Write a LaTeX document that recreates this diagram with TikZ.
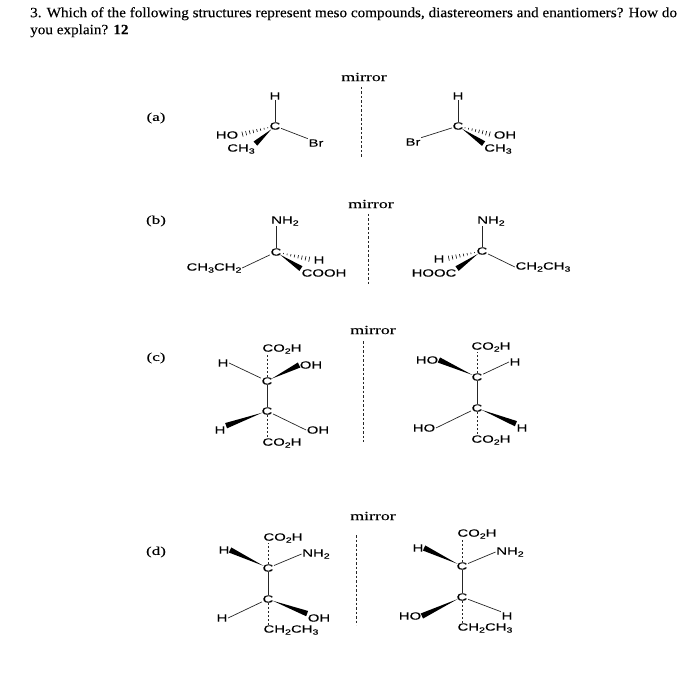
\documentclass[tikz,border=0pt]{standalone}
\usepackage{fontspec}
\setmainfont{Liberation Serif}
\newfontfamily\titlefont[FakeStretch=1.07,FakeBold=0.15]{Liberation Serif}
\newfontfamily\chemfont[FakeStretch=1.42,FakeBold=0.15]{Liberation Sans}
\newfontfamily\mirrorfont[FakeStretch=1.42,FakeBold=0.1]{Liberation Serif}
\usetikzlibrary{positioning,calc}

\newcommand{\low}[1]{\raisebox{-2pt}{\fontsize{7.5}{8}\selectfont #1}}
\newcommand{\wedgebond}[2]{\fill ($(#1)!5pt!(#2)$) -- ($(#2)!2.8pt!90:(#1)$) -- ($(#2)!2.8pt!-90:(#1)$) -- cycle;}
\newcommand{\hashbond}[2]{\foreach \t in {.2,.3,.4,.5,.6,.7,.8,.9,1}{
    \pgfmathsetmacro\w{2.8*\t}
    \draw[hash] ($(#1)!\t!(#2)!\w pt!90:(#2)$) -- ($(#1)!\t!(#2)!\w pt!-90:(#2)$);}}

\tikzset{
    atom/.style={inner sep=.5pt,font=\chemfont\fontsize{10.5}{11}\selectfont},
    bond/.style={draw,line width=.7pt,black!85},
    dotbond/.style={draw,line width=.9pt,black!85,dash pattern=on 2pt off 2pt},
    hash/.style={line width=.6pt},
    mirrorline/.style={draw,line width=1pt,black!85,dash pattern=on 2.5pt off 2pt},
    mirrorlabel/.style={font=\mirrorfont\fontsize{12.5}{13}\selectfont},
    partlabel/.style={font=\mirrorfont\fontsize{12}{13}\selectfont}
}

\begin{document}
\begin{tikzpicture}[x=1pt,y=-1pt,on grid]
\useasboundingbox (0,0) rectangle (683,700);

% Question
\node[anchor=north west,align=left,inner sep=0,
    font=\titlefont\fontsize{14.2}{17}\selectfont] (question) at (30,7)
    {3. Which of the following structures represent meso compounds, diastereomers and enantiomers? How do\\
    you explain? \textbf{12}};

% Part labels
\node[partlabel] (parta) at (156,118) {(a)};
\node[partlabel] (partb) at (156,221) {(b)};
\node[partlabel] (partc) at (156,358) {(c)};
\node[partlabel] (partd) at (156,552) {(d)};

% Mirrors
\node[mirrorlabel] (mirrora) at (364,77) {mirror};
\coordinate[below left=10pt and 2.5pt of mirrora] (mirrora1);
\coordinate[below=71pt of mirrora1] (mirrora2);
\draw[mirrorline] (mirrora1) -- (mirrora2);

\node[mirrorlabel] (mirrorb) at (371,204) {mirror};
\coordinate[below left=10pt and 3pt of mirrorb] (mirrorb1);
\coordinate[below=71pt of mirrorb1] (mirrorb2);
\draw[mirrorline] (mirrorb1) -- (mirrorb2);

\node[mirrorlabel] (mirrorc) at (373,330) {mirror};
\coordinate[below left=11pt and 10pt of mirrorc] (mirrorc1);
\coordinate[below=101pt of mirrorc1] (mirrorc2);
\draw[mirrorline] (mirrorc1) -- (mirrorc2);

\node[mirrorlabel] (mirrord) at (373,516) {mirror};
\coordinate[below left=19pt and 17pt of mirrord] (mirrord1);
\coordinate[below=90pt of mirrord1] (mirrord2);
\draw[mirrorline] (mirrord1) -- (mirrord2);

% (a) left
\node[atom] (cal) at (275,126) {C};
\node[atom,above=30pt of cal] (hal) {H};
\node[atom,below left=9pt and 48pt of cal] (hoal) {HO};
\node[atom,below left=23pt and 34pt of cal] (meal) {CH\low{3}};
\node[atom,below right=17pt and 41pt of cal] (bral) {Br};
\draw[bond] (cal) -- (hal);
\draw[bond] (cal) -- (bral.north west);
\hashbond{cal}{hoal.east}
\wedgebond{cal}{meal.north east}

% (a) right
\node[atom] (car) at (458,126) {C};
\node[atom,above=30pt of car] (har) {H};
\node[atom,below right=9pt and 47pt of car] (ohar) {OH};
\node[atom,below right=23pt and 40pt of car] (mear) {CH\low{3}};
\node[atom,below left=16pt and 45pt of car] (brar) {Br};
\draw[bond] (car) -- (har);
\draw[bond] (car) -- (brar.north east);
\hashbond{car}{ohar.west}
\wedgebond{car}{mear.north west}

% (b) left
\node[atom] (cbl) at (276,252) {C};
\node[atom,above right=31pt and 9pt of cbl] (nhbl) {NH\low{2}};
\node[atom,below right=8pt and 43pt of cbl] (hbl) {H};
\node[atom,below right=21pt and 48pt of cbl] (cobl) {COOH};
\node[atom,below left=16pt and 62pt of cbl] (etbl) {CH\low{3}CH\low{2}};
\draw[bond] (cbl) -- (cbl |- nhbl.south);
\draw[bond] (cbl) -- (etbl.east);
\hashbond{cbl}{hbl.west}
\wedgebond{cbl}{cobl.north west}

% (b) right
\node[atom] (cbr) at (482,251) {C};
\node[atom,above right=30pt and 9pt of cbr] (nhbr) {NH\low{2}};
\node[atom,below left=8pt and 43pt of cbr] (hbr) {H};
\node[atom,below left=22pt and 48pt of cbr] (cobr) {HOOC};
\node[atom,below right=16pt and 61pt of cbr] (etbr) {CH\low{2}CH\low{3}};
\draw[bond] (cbr) -- (cbr |- nhbr.south);
\draw[bond] (cbr) -- (etbr.west);
\hashbond{cbr}{hbr.east}
\wedgebond{cbr}{cobr.north east}

% (c) left
\node[atom] (cclt) at (267,381) {C};
\node[atom,below=30pt of cclt] (cclb) {C};
\node[atom,above right=32pt and 15pt of cclt] (coclt) {CO\low{2}H};
\node[atom,below right=32pt and 15pt of cclb] (coclb) {CO\low{2}H};
\node[atom,above left=18pt and 44pt of cclt] (hclt) {H};
\node[atom,above right=16pt and 44pt of cclt] (ohclt) {OH};
\node[atom,below left=19pt and 47pt of cclb] (hclb) {H};
\node[atom,below right=19pt and 51pt of cclb] (ohclb) {OH};
\draw[bond] (cclt) -- (cclb);
\draw[dotbond] (cclt) -- (cclt |- coclt.south);
\draw[dotbond] (cclb) -- (cclb |- coclb.north);
\draw[bond] (cclt) -- (hclt.east);
\draw[bond] (cclb) -- (ohclb.west);
\wedgebond{cclt}{ohclt.west}
\wedgebond{cclb}{hclb.north east}

% (c) right
\node[atom] (ccrt) at (477,377) {C};
\node[atom,below=31pt of ccrt] (ccrb) {C};
\node[atom,above right=30pt and 14pt of ccrt] (cocrt) {CO\low{2}H};
\node[atom,below right=32pt and 14pt of ccrb] (cocrb) {CO\low{2}H};
\node[atom,above left=17pt and 50pt of ccrt] (hocrt) {HO};
\node[atom,above right=15pt and 38pt of ccrt] (hcrt) {H};
\node[atom,below left=20pt and 53pt of ccrb] (hocrb) {HO};
\node[atom,below right=20pt and 45pt of ccrb] (hcrb) {H};
\draw[bond] (ccrt) -- (ccrb);
\draw[dotbond] (ccrt) -- (ccrt |- cocrt.south);
\draw[dotbond] (ccrb) -- (ccrb |- cocrb.north);
\draw[bond] (ccrt) -- (hcrt.west);
\draw[bond] (ccrb) -- (hocrb.east);
\wedgebond{ccrt}{hocrt.east}
\wedgebond{ccrb}{hcrb.north west}

% (d) left
\node[atom] (cdlt) at (268,568) {C};
\node[atom,below=31pt of cdlt] (cdlb) {C};
\node[atom,above right=30pt and 15pt of cdlt] (codl) {CO\low{2}H};
\node[atom,below right=31pt and 23pt of cdlb] (etdl) {CH\low{2}CH\low{3}};
\node[atom,above left=18pt and 44pt of cdlt] (hdlt) {H};
\node[atom,above right=14pt and 48pt of cdlt] (nhdl) {NH\low{2}};
\node[atom,below left=19pt and 46pt of cdlb] (hdlb) {H};
\node[atom,below right=19pt and 51pt of cdlb] (ohdl) {OH};
\draw[bond] (cdlt) -- (cdlb);
\draw[dotbond] (cdlt) -- (cdlt |- codl.south);
\draw[dotbond] (cdlb) -- (cdlb |- etdl.north);
\draw[bond] (cdlt) -- (nhdl.west);
\draw[bond] (cdlb) -- (hdlb.east);
\wedgebond{cdlt}{hdlt.east}
\wedgebond{cdlb}{ohdl.north west}

% (d) right
\node[atom] (cdrt) at (462,566) {C};
\node[atom,below=31pt of cdrt] (cdrb) {C};
\node[atom,above right=32pt and 15pt of cdrt] (codr) {CO\low{2}H};
\node[atom,below right=31pt and 23pt of cdrb] (etdr) {CH\low{2}CH\low{3}};
\node[atom,above left=18pt and 44pt of cdrt] (hdrt) {H};
\node[atom,above right=14pt and 48pt of cdrt] (nhdr) {NH\low{2}};
\node[atom,below left=19pt and 52pt of cdrb] (hodr) {HO};
\node[atom,below right=19pt and 45pt of cdrb] (hdrb) {H};
\draw[bond] (cdrt) -- (cdrb);
\draw[dotbond] (cdrt) -- (cdrt |- codr.south);
\draw[dotbond] (cdrb) -- (cdrb |- etdr.north);
\draw[bond] (cdrt) -- (nhdr.west);
\draw[bond] (cdrb) -- (hdrb.north west);
\wedgebond{cdrt}{hdrt.east}
\wedgebond{cdrb}{hodr.east}

\end{tikzpicture}
\end{document}
